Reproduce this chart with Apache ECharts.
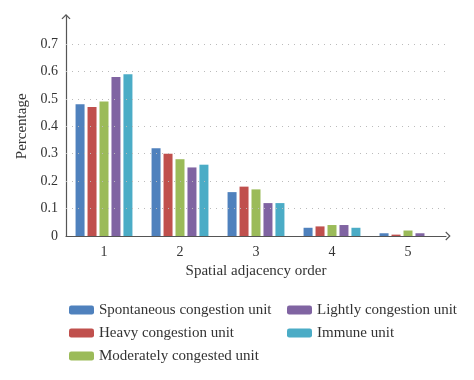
<!DOCTYPE html>
<html><head><meta charset="utf-8">
<script src="https://cdn.jsdelivr.net/npm/echarts@6/dist/echarts.min.js"></script>
<style>html,body{margin:0;padding:0;background:#fff}#c{width:474px;height:380px}</style>
</head><body><div id="c"></div>
<script>
const categories = ['1','2','3','4','5'];
const seriesNames = ['Spontaneous congestion unit','Heavy congestion unit','Moderately congested unit','Lightly congestion unit','Immune unit'];
const spontaneous = [0.48, 0.32, 0.16, 0.03, 0.01];
const heavy = [0.47, 0.30, 0.18, 0.035, 0.005];
const moderate = [0.49, 0.28, 0.17, 0.04, 0.02];
const lightly = [0.58, 0.25, 0.12, 0.04, 0.01];
const immune = [0.59, 0.26, 0.12, 0.03, 0];
const gridValues = [0.1, 0.2, 0.3, 0.4, 0.5, 0.6, 0.7];

const colors = ['#4f81bd','#c0504d','#9bbb59','#8064a2','#4bacc6'];
const values = [spontaneous, heavy, moderate, lightly, immune];
const font = '"Liberation Serif", "DejaVu Serif", serif';
const chevron = 'path://M0,7 L7,0 L14,7 L12.6,8.2 L7,2.6 L1.4,8.2 Z';

const chart = echarts.init(document.getElementById('c'));
const series = values.map((v, i) => ({
  name: seriesNames[i], type: 'bar', data: v, barWidth: 9, barGap: '33%',
  itemStyle: { color: colors[i] },
  markLine: i === 0 ? {
    silent: true, symbol: ['none','none'], label: { show: false },
    lineStyle: { color: '#bbb', type: [1, 5], width: 1.2 },
    data: gridValues.map(g => ({ yAxis: g }))
  } : undefined
}));
chart.setOption({
  animation: false,
  color: colors,
  grid: { left: 66, right: 28, top: 16.6, bottom: 144 },
  legend: [
    { orient: 'vertical', left: 64, top: 297, itemWidth: 25, itemHeight: 9, itemGap: 7,
      data: seriesNames.slice(0,3), textStyle: { fontFamily: font, fontSize: 15, color: '#333', lineHeight: 16 } },
    { orient: 'vertical', left: 282, top: 297, itemWidth: 25, itemHeight: 9, itemGap: 7,
      data: seriesNames.slice(3), textStyle: { fontFamily: font, fontSize: 15, color: '#333', lineHeight: 16 } }
  ],
  xAxis: {
    type: 'category', data: categories,
    name: 'Spatial adjacency order', nameLocation: 'middle', nameGap: 27,
    nameTextStyle: { fontFamily: font, fontSize: 15, color: '#333' },
    axisLine: { lineStyle: { color: '#555', width: 1.2 }, symbol: ['none', chevron], symbolSize: [9, 6], symbolOffset: [0, 2] },
    axisTick: { show: false },
    axisLabel: { fontFamily: font, fontSize: 14, color: '#333', margin: 9 }
  },
  yAxis: {
    type: 'value', min: 0, max: 0.8, interval: 0.1,
    name: 'Percentage', nameLocation: 'middle', nameGap: 36,
    nameTextStyle: { fontFamily: font, fontSize: 15, color: '#333' },
    axisLine: { show: true, lineStyle: { color: '#555', width: 1.2 }, symbol: ['none', chevron], symbolSize: [9, 6] },
    axisTick: { show: false },
    splitLine: { show: false },
    axisLabel: { fontFamily: font, fontSize: 14, color: '#333', margin: 8,
      formatter: v => (v > 0.75 ? '' : (Math.round(v * 10) / 10).toString()) }
  },
  series: series
});
</script></body></html>
